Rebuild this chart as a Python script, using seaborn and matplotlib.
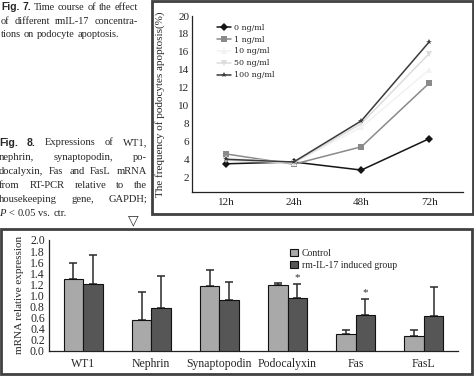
import numpy as np
import pandas as pd
import matplotlib
matplotlib.use("Agg")
import matplotlib.pyplot as plt
import seaborn as sns
from matplotlib.patches import Rectangle

# ---------------- data ----------------
times = ["12h", "24h", "48h", "72h"]
conc_labels = ["0 ng/ml", "1 ng/ml", "10 ng/ml", "50 ng/ml", "100 ng/ml"]
apop_0 = [3.5, 3.7, 2.8, 6.3]
apop_1 = [4.6, 3.45, 5.4, 12.5]
apop_10 = [4.2, 3.6, 7.6, 14.0]
apop_50 = [3.9, 3.6, 8.0, 15.8]
apop_100 = [4.0, 3.7, 8.3, 17.1]
apop_ticks = [2, 4, 6, 8, 10, 12, 14, 16, 18, 20]

genes = ["WT1", "Nephrin", "Synaptopodin", "Podocalyxin", "Fas", "FasL"]
groups = ["Control", "rm-IL-17 induced group"]
control_mean = [1.30, 0.56, 1.16, 1.18, 0.30, 0.26]
control_sd = [0.28, 0.50, 0.29, 0.04, 0.08, 0.12]
induced_mean = [1.20, 0.77, 0.92, 0.95, 0.65, 0.62]
induced_sd = [0.53, 0.58, 0.32, 0.26, 0.29, 0.53]
starred = ["Podocalyxin", "Fas"]
mrna_ticks = [0.0, 0.2, 0.4, 0.6, 0.8, 1.0, 1.2, 1.4, 1.6, 1.8, 2.0]

fig7_lines = [["Fig.", "7.", "Time", "course", "of", "the", "effect"],
              ["of", "different", "rmIL-17", "concentra-"],
              ["tions", "on", "podocyte", "apoptosis."]]
fig8_lines = [["Fig.", "8.", "Expressions", "of", "WT1,"],
              ["nephrin,", "synaptopodin,", "po-"],
              ["docalyxin,", "Fas", "and", "FasL", "mRNA"],
              ["from", "RT-PCR", "relative", "to", "the"],
              ["housekeeping", "gene,", "GAPDH;"],
              ["P", "<", "0.05", "vs.", "ctr."]]

# ---------------- figure ----------------
sns.set_style("white")
plt.rcParams["font.family"] = ["Liberation Serif", "DejaVu Serif"]
W, H = 474, 376
fig = plt.figure(figsize=(W / 100, H / 100), dpi=100)
fig.patch.set_facecolor("white")


def px_axes(left, top, right, bottom):
    return fig.add_axes([left / W, 1 - bottom / H, (right - left) / W, (bottom - top) / H])


# frames
frame_col = "#404040"
fig.add_artist(Rectangle((152 / W, 1 - 214 / H), (473 - 152) / W, (214 - 1) / H,
                         transform=fig.transFigure, fill=False, ec=frame_col, lw=2))
fig.add_artist(Rectangle((1 / W, 1 - 374 / H), (472 - 1) / W, (374 - 229) / H,
                         transform=fig.transFigure, fill=False, ec=frame_col, lw=2))

# ---------------- line chart ----------------
ax1 = px_axes(192, 16, 463, 192)
long_rows = []
for lab, vals in zip(conc_labels, [apop_0, apop_1, apop_10, apop_50, apop_100]):
    for t, v in zip(times, vals):
        long_rows.append({"time": t, "value": v, "conc": lab})
df1 = pd.DataFrame(long_rows)
line_cols = ["#151515", "#8a8a8a", "#f2f2f2", "#dcdcdc", "#3a3a3a"]
markers = dict(zip(conc_labels, ["D", "s", "^", "v", "*"]))
sns.lineplot(data=df1, x="time", y="value", hue="conc", style="conc",
             hue_order=conc_labels, style_order=conc_labels,
             palette=line_cols, markers=markers, dashes=False,
             markersize=4, markeredgewidth=0, linewidth=1.1, ax=ax1, sort=False)
ax1.set_xlim(-0.5, 3.5)
ax1.set_ylim(0.35, 20)
ax1.set_yticks(apop_ticks)
ax1.set_yticklabels([str(t) for t in apop_ticks], fontsize=8)
ax1.set_xticks(np.arange(0.5, 4, 1))
ax1.set_xticklabels([])
ax1.set_xticks(range(len(times)), minor=True)
ax1.set_xticklabels(times, minor=True, fontsize=8)
ax1.tick_params(axis="x", which="minor", length=0, pad=4)
ax1.tick_params(axis="x", which="major", direction="in", length=3, width=0.8)
ax1.tick_params(axis="y", direction="in", length=3, width=0.8, pad=2)
ax1.set_xlabel("")
ax1.set_ylabel("The frequency of podocytes apoptosis(%)", fontsize=8)
ax1.yaxis.set_label_coords(-0.10, 0.5)
for s in ["top", "right"]:
    ax1.spines[s].set_visible(False)
for s in ["left", "bottom"]:
    ax1.spines[s].set_color("#222222")
    ax1.spines[s].set_linewidth(0.9)
ax1.patch.set_alpha(0)
h, l = ax1.get_legend_handles_labels()
ax1.legend(h, l, loc="upper left", bbox_to_anchor=(0.08, 0.975), frameon=False,
           prop={"family": "DejaVu Serif", "size": 5.7}, handlelength=1.8,
           handletextpad=0.4, labelspacing=0.5, borderaxespad=0)

# ---------------- bar chart ----------------
ax2 = px_axes(49, 240, 458, 350.7)
rows2 = []
for g, c, i in zip(genes, control_mean, induced_mean):
    rows2.append({"gene": g, "group": groups[0], "value": c})
    rows2.append({"gene": g, "group": groups[1], "value": i})
df2 = pd.DataFrame(rows2)
sns.barplot(data=df2, x="gene", y="value", hue="group", order=genes, hue_order=groups,
            palette=["#a9a9a9", "#565656"], edgecolor="#111111", linewidth=0.8,
            width=0.57, gap=0, errorbar=None, ax=ax2, zorder=3)
for cont, sds in zip(ax2.containers, [control_sd, induced_sd]):
    for bar, sd in zip(cont, sds):
        xc = bar.get_x() + bar.get_width() / 2
        ax2.errorbar(xc, bar.get_height(), yerr=[[0], [sd]], fmt="none",
                     ecolor="#2a2a2a", elinewidth=1.1, capsize=2.8, capthick=1.1, zorder=2)
for bar, sd, g in zip(ax2.containers[1], induced_sd, genes):
    if g in starred:
        xc = bar.get_x() + bar.get_width() / 2
        ax2.annotate("*", (xc, bar.get_height() + sd), xytext=(0, 1), textcoords="offset points",
                     ha="center", va="bottom", fontsize=8, color="#333333")
ax2.set_xlim(-0.5, 5.5)
ax2.set_ylim(0, 2.0)
ax2.set_yticks(mrna_ticks)
ax2.set_yticklabels([f"{t:.1f}" for t in mrna_ticks], fontsize=8.5)
ax2.set_xticks(np.arange(0.5, 6, 1))
ax2.set_xticklabels([])
ax2.set_xticks(range(len(genes)), minor=True)
ax2.set_xticklabels(genes, minor=True, fontsize=8.5)
ax2.tick_params(axis="x", which="minor", length=0, pad=5)
ax2.tick_params(axis="x", which="major", direction="in", length=3, width=0.8)
ax2.tick_params(axis="y", direction="in", length=3, width=0.8, pad=3)
ax2.set_xlabel("")
ax2.set_ylabel("mRNA relative expression", fontsize=8)
ax2.yaxis.set_label_coords(-0.062, 0.5)
for s in ["top", "right"]:
    ax2.spines[s].set_visible(False)
for s in ["left", "bottom"]:
    ax2.spines[s].set_color("#222222")
    ax2.spines[s].set_linewidth(0.9)
ax2.patch.set_alpha(0)
h2, l2 = ax2.get_legend_handles_labels()
ax2.legend(h2, l2, loc="upper left", bbox_to_anchor=(0.58, 0.955), frameon=False,
           fontsize=7, handlelength=0.8, handleheight=0.8, handletextpad=0.4,
           labelspacing=0.3, borderaxespad=0)

# ---------------- captions ----------------
renderer = fig.canvas.get_renderer()


def justified(lines, x0, x1, y0, dy, bold_n, size):
    for li, words in enumerate(lines):
        y = 1 - (y0 + li * dy) / H
        texts = []
        for wi, w in enumerate(words):
            if li == 0 and wi < bold_n:
                t = fig.text(0, y, w, fontsize=size, fontweight="bold",
                             family=["Liberation Sans", "DejaVu Sans"], va="center", ha="left")
            else:
                t = fig.text(0, y, w, fontsize=size, va="center", ha="left",
                             style="italic" if (li == len(lines) - 1 and w == "P") else "normal")
            texts.append(t)
        widths = [t.get_window_extent(renderer).width for t in texts]
        if li < len(lines) - 1 and len(words) > 1:
            gap = (x1 - x0 - sum(widths)) / (len(words) - 1)
        else:
            gap = size * 1.389 * 0.28
        x = x0
        for t, wd in zip(texts, widths):
            t.set_x(x / W)
            x += wd + gap


justified(fig7_lines, 1, 138, 7.5, 13.5, 2, 7.4)
justified(fig8_lines, -1, 147, 143, 14, 2, 7.6)
fig.text(133 / W, 1 - 220 / H, "\u25BD", fontsize=10, family="DejaVu Sans",
         ha="center", va="center", color="#333333")

fig.savefig("out.png", dpi=100)
